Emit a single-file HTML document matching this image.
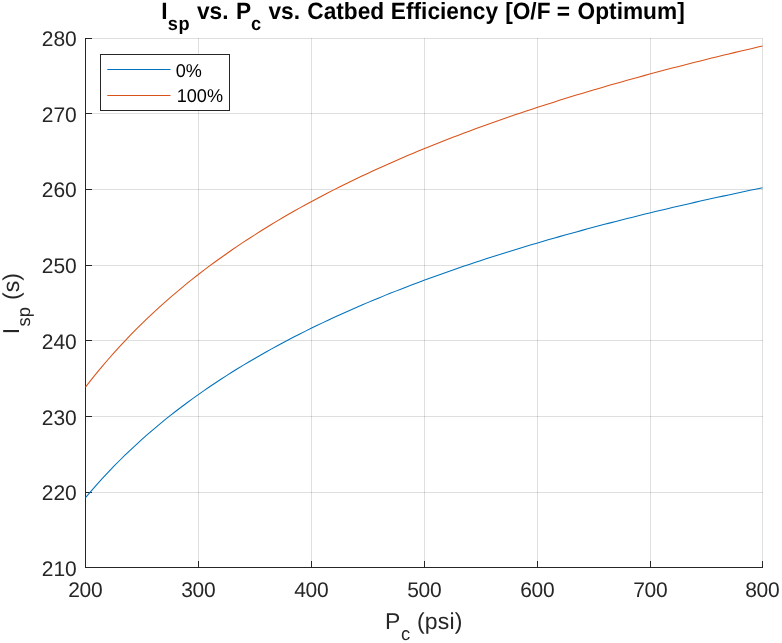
<!DOCTYPE html>
<html><head><meta charset="utf-8"><title>Isp vs Pc</title>
<style>
html,body{margin:0;padding:0;background:#fff;}
body{width:782px;height:643px;overflow:hidden;}
svg{display:block;font-family:"Liberation Sans",sans-serif;will-change:transform;text-rendering:geometricPrecision;}
.tk{font-size:21px;fill:#262626;}
.lb{font-size:23px;fill:#262626;}
.sb{font-size:18.4px;fill:#262626;}
.tt{font-size:22.7px;font-weight:bold;fill:#000;}
.ts{font-size:18.2px;font-weight:bold;fill:#000;}
.lg{font-size:18.1px;fill:#000;}
</style></head><body>
<svg width="782" height="643" viewBox="0 0 782 643">
<rect x="0" y="0" width="782" height="643" fill="#fff"/>
<g shape-rendering="crispEdges">
<rect x="198" y="38" width="1" height="529" fill="#262626" fill-opacity="0.15"/>
<rect x="311" y="38" width="1" height="529" fill="#262626" fill-opacity="0.15"/>
<rect x="424" y="38" width="1" height="529" fill="#262626" fill-opacity="0.15"/>
<rect x="537" y="38" width="1" height="529" fill="#262626" fill-opacity="0.15"/>
<rect x="650" y="38" width="1" height="529" fill="#262626" fill-opacity="0.15"/>
<rect x="762" y="38" width="1" height="529" fill="#262626" fill-opacity="0.15"/>
<rect x="86" y="38" width="676" height="1" fill="#262626" fill-opacity="0.15"/>
<rect x="86" y="113" width="677" height="1" fill="#262626" fill-opacity="0.15"/>
<rect x="86" y="189" width="677" height="1" fill="#262626" fill-opacity="0.15"/>
<rect x="86" y="265" width="677" height="1" fill="#262626" fill-opacity="0.15"/>
<rect x="86" y="340" width="677" height="1" fill="#262626" fill-opacity="0.15"/>
<rect x="86" y="416" width="677" height="1" fill="#262626" fill-opacity="0.15"/>
<rect x="86" y="492" width="677" height="1" fill="#262626" fill-opacity="0.15"/>
</g>
<g shape-rendering="crispEdges">
<rect x="85" y="38" width="1" height="530" fill="#262626"/>
<rect x="85" y="567" width="678" height="1" fill="#262626"/>
<rect x="85" y="561" width="1" height="7" fill="#262626"/>
<rect x="198" y="561" width="1" height="7" fill="#262626"/>
<rect x="311" y="561" width="1" height="7" fill="#262626"/>
<rect x="424" y="561" width="1" height="7" fill="#262626"/>
<rect x="537" y="561" width="1" height="7" fill="#262626"/>
<rect x="650" y="561" width="1" height="7" fill="#262626"/>
<rect x="762" y="561" width="1" height="7" fill="#262626"/>
<rect x="85" y="38" width="7" height="1" fill="#262626"/>
<rect x="85" y="113" width="7" height="1" fill="#262626"/>
<rect x="85" y="189" width="7" height="1" fill="#262626"/>
<rect x="85" y="265" width="7" height="1" fill="#262626"/>
<rect x="85" y="340" width="7" height="1" fill="#262626"/>
<rect x="85" y="416" width="7" height="1" fill="#262626"/>
<rect x="85" y="492" width="7" height="1" fill="#262626"/>
<rect x="85" y="567" width="7" height="1" fill="#262626"/>
</g>
<path d="M85.50,497.70 L91.14,491.06 L96.78,484.62 L102.42,478.38 L108.07,472.33 L113.71,466.46 L119.35,460.75 L124.99,455.20 L130.63,449.80 L136.28,444.55 L141.92,439.43 L147.56,434.44 L153.20,429.58 L158.84,424.84 L164.48,420.21 L170.12,415.69 L175.77,411.28 L181.41,406.96 L187.05,402.74 L192.69,398.62 L198.33,394.58 L203.97,390.63 L209.62,386.76 L215.26,382.97 L220.90,379.26 L226.54,375.61 L232.18,372.04 L237.82,368.54 L243.47,365.11 L249.11,361.74 L254.75,358.43 L260.39,355.18 L266.03,351.98 L271.68,348.85 L277.32,345.77 L282.96,342.74 L288.60,339.76 L294.24,336.83 L299.88,333.95 L305.52,331.11 L311.17,328.32 L316.81,325.57 L322.45,322.87 L328.09,320.21 L333.73,317.59 L339.38,315.00 L345.02,312.46 L350.66,309.95 L356.30,307.48 L361.94,305.04 L367.58,302.64 L373.23,300.27 L378.87,297.94 L384.51,295.63 L390.15,293.36 L395.79,291.12 L401.43,288.91 L407.07,286.72 L412.72,284.57 L418.36,282.44 L424.00,280.34 L429.64,278.26 L435.28,276.21 L440.93,274.19 L446.57,272.19 L452.21,270.21 L457.85,268.26 L463.49,266.33 L469.13,264.42 L474.77,262.54 L480.42,260.67 L486.06,258.83 L491.70,257.01 L497.34,255.21 L502.98,253.43 L508.62,251.66 L514.27,249.92 L519.91,248.20 L525.55,246.49 L531.19,244.80 L536.83,243.13 L542.48,241.48 L548.12,239.84 L553.76,238.22 L559.40,236.62 L565.04,235.03 L570.68,233.46 L576.33,231.91 L581.97,230.37 L587.61,228.84 L593.25,227.33 L598.89,225.83 L604.53,224.35 L610.17,222.88 L615.82,221.43 L621.46,219.99 L627.10,218.56 L632.74,217.15 L638.38,215.74 L644.02,214.35 L649.67,212.98 L655.31,211.61 L660.95,210.26 L666.59,208.92 L672.23,207.59 L677.88,206.27 L683.52,204.96 L689.16,203.67 L694.80,202.38 L700.44,201.11 L706.08,199.85 L711.73,198.59 L717.37,197.35 L723.01,196.12 L728.65,194.90 L734.29,193.68 L739.93,192.48 L745.58,191.29 L751.22,190.10 L756.86,188.93 L762.50,187.76" fill="none" stroke="#0072bd" stroke-width="1.05" stroke-linejoin="round"/>
<path d="M85.50,387.17 L91.14,379.93 L96.78,372.92 L102.42,366.12 L108.07,359.52 L113.71,353.11 L119.35,346.88 L124.99,340.83 L130.63,334.93 L136.28,329.19 L141.92,323.60 L147.56,318.15 L153.20,312.83 L158.84,307.65 L164.48,302.58 L170.12,297.64 L175.77,292.80 L181.41,288.08 L187.05,283.46 L192.69,278.94 L198.33,274.51 L203.97,270.18 L209.62,265.93 L215.26,261.78 L220.90,257.70 L226.54,253.70 L232.18,249.79 L237.82,245.94 L243.47,242.17 L249.11,238.46 L254.75,234.83 L260.39,231.25 L266.03,227.74 L271.68,224.30 L277.32,220.91 L282.96,217.57 L288.60,214.29 L294.24,211.07 L299.88,207.90 L305.52,204.78 L311.17,201.70 L316.81,198.68 L322.45,195.70 L328.09,192.77 L333.73,189.88 L339.38,187.03 L345.02,184.22 L350.66,181.46 L356.30,178.73 L361.94,176.05 L367.58,173.40 L373.23,170.78 L378.87,168.20 L384.51,165.66 L390.15,163.15 L395.79,160.67 L401.43,158.23 L407.07,155.82 L412.72,153.43 L418.36,151.08 L424.00,148.76 L429.64,146.46 L435.28,144.20 L440.93,141.96 L446.57,139.75 L452.21,137.56 L457.85,135.40 L463.49,133.27 L469.13,131.15 L474.77,129.07 L480.42,127.01 L486.06,124.97 L491.70,122.95 L497.34,120.95 L502.98,118.98 L508.62,117.03 L514.27,115.10 L519.91,113.18 L525.55,111.29 L531.19,109.42 L536.83,107.57 L542.48,105.74 L548.12,103.92 L553.76,102.13 L559.40,100.35 L565.04,98.59 L570.68,96.85 L576.33,95.12 L581.97,93.41 L587.61,91.72 L593.25,90.04 L598.89,88.38 L604.53,86.73 L610.17,85.10 L615.82,83.49 L621.46,81.89 L627.10,80.30 L632.74,78.73 L638.38,77.17 L644.02,75.63 L649.67,74.10 L655.31,72.58 L660.95,71.07 L666.59,69.58 L672.23,68.11 L677.88,66.64 L683.52,65.19 L689.16,63.75 L694.80,62.32 L700.44,60.90 L706.08,59.49 L711.73,58.10 L717.37,56.72 L723.01,55.34 L728.65,53.98 L734.29,52.63 L739.93,51.29 L745.58,49.96 L751.22,48.65 L756.86,47.34 L762.50,46.04" fill="none" stroke="#d95319" stroke-width="1.05" stroke-linejoin="round"/>
<text transform="translate(85.35,597.20) scale(1.0,1.01)" text-anchor="middle" class="tk" letter-spacing="-0.2">200</text>
<text transform="translate(198.35,597.20) scale(1.0,1.01)" text-anchor="middle" class="tk" letter-spacing="-0.2">300</text>
<text transform="translate(311.35,597.20) scale(1.0,1.01)" text-anchor="middle" class="tk" letter-spacing="-0.2">400</text>
<text transform="translate(424.35,597.20) scale(1.0,1.01)" text-anchor="middle" class="tk" letter-spacing="-0.2">500</text>
<text transform="translate(537.35,597.20) scale(1.0,1.01)" text-anchor="middle" class="tk" letter-spacing="-0.2">600</text>
<text transform="translate(650.35,597.20) scale(1.0,1.01)" text-anchor="middle" class="tk" letter-spacing="-0.2">700</text>
<text transform="translate(762.35,597.20) scale(1.0,1.01)" text-anchor="middle" class="tk" letter-spacing="-0.2">800</text>
<text transform="translate(76.80,46.10) scale(1.0,1.01)" text-anchor="end" class="tk">280</text>
<text transform="translate(76.80,122.00) scale(1.0,1.01)" text-anchor="end" class="tk">270</text>
<text transform="translate(76.80,197.10) scale(1.0,1.01)" text-anchor="end" class="tk">260</text>
<text transform="translate(76.80,273.10) scale(1.0,1.01)" text-anchor="end" class="tk">250</text>
<text transform="translate(76.80,349.00) scale(1.0,1.01)" text-anchor="end" class="tk">240</text>
<text transform="translate(76.80,425.00) scale(1.0,1.01)" text-anchor="end" class="tk">230</text>
<text transform="translate(76.80,500.10) scale(1.0,1.01)" text-anchor="end" class="tk">220</text>
<text transform="translate(76.80,576.00) scale(1.0,1.01)" text-anchor="end" class="tk">210</text>

<!-- title -->
<text transform="translate(161.20,19.00) scale(1.0,1.04)" text-anchor="start" class="tt">I</text>
<text transform="translate(167.80,29.60) scale(1.0,1.04)" text-anchor="start" class="ts" letter-spacing="0.6">sp</text>
<text transform="translate(196.90,19.00) scale(1.0,1.04)" text-anchor="start" class="tt">vs.</text>
<text transform="translate(236.00,19.00) scale(1.0,1.04)" text-anchor="start" class="tt">P</text>
<text transform="translate(251.00,29.60) scale(1.0,1.04)" text-anchor="start" class="ts">c</text>
<text transform="translate(268.43,19.00) scale(1.0,1.04)" text-anchor="start" class="tt">vs.</text>
<text transform="translate(307.27,19.00) scale(1.0,1.04)" text-anchor="start" class="tt">Catbed</text>
<text transform="translate(390.86,19.00) scale(1.0,1.04)" text-anchor="start" class="tt">Efficiency</text>
<text transform="translate(505.13,19.00) scale(1.0,1.04)" text-anchor="start" class="tt">[O/F</text>
<text transform="translate(556.87,19.00) scale(1.0,1.04)" text-anchor="start" class="tt">=</text>
<text transform="translate(577.58,19.00) scale(1.0,1.04)" text-anchor="start" class="tt">Optimum]</text>

<!-- xlabel -->
<text transform="translate(385.00,629.00) scale(1.0,1.0)" text-anchor="start" class="lb">P</text>
<text transform="translate(401.00,640.00) scale(1.0,1.0)" text-anchor="start" class="sb">c</text>
<text transform="translate(417.00,629.00) scale(1.0,1.0)" text-anchor="start" class="lb" letter-spacing="0.2">(psi)</text>

<!-- ylabel -->
<g transform="translate(19,333) rotate(-90)">
<text x="-1.3" y="0" class="lb">I</text>
<text x="6.5" y="11" class="sb">sp</text>
<text x="33" y="0" class="lb">(s)</text>
</g>
<!-- legend -->
<g shape-rendering="crispEdges">
<rect x="100.5" y="54.5" width="129" height="56" fill="#fff" stroke="#262626" stroke-width="1"/>
</g>
<line x1="107.3" y1="69.5" x2="170.5" y2="69.5" stroke="#0072bd" stroke-width="1.05"/>
<line x1="107.3" y1="95.5" x2="170.5" y2="95.5" stroke="#d95319" stroke-width="1.05"/>
<text transform="translate(175.70,77.00) scale(1.0,1.025)" text-anchor="start" class="lg">0%</text>
<text transform="translate(176.70,102.00) scale(1.0,1.025)" text-anchor="start" class="lg">100%</text>

</svg>
</body></html>
